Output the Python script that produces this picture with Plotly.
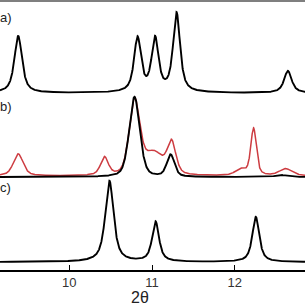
import numpy as np
import plotly.graph_objects as go

# x-axis extent (2θ) and ticks
x_min, x_max = 9.162, 12.85
tick_vals = [10, 11, 12]
tick_text = ["10", "11", "12"]

# Panel baselines (vertical offsets, arbitrary units)
base_a, base_b, base_c = 177, 93, 8

# Peak lists: position (2θ), height, FWHM, lorentz fraction
a_pos = [9.382, 10.825, 11.037, 11.297, 12.643]
a_hgt = [57, 54, 53, 79, 22]
a_fwhm = [0.11, 0.10, 0.10, 0.10, 0.11]
a_eta = [0.75, 0.75, 0.75, 0.75, 0.75]

b_black_pos = [10.788, 11.225, 12.558]
b_black_hgt = [80, 22, 2]
b_black_fwhm = [0.15, 0.11, 0.15]
b_black_eta = [0.35, 0.4, 0.3]

b_red_pos = [9.382, 10.425, 10.788, 11.02, 11.237, 12.07, 12.228, 12.615]
b_red_hgt = [22, 18, 74, 22, 31, 6, 47, 7]
b_red_fwhm = [0.14, 0.11, 0.15, 0.28, 0.12, 0.15, 0.08, 0.18]
b_red_eta = [0.5, 0.5, 0.35, 0.3, 0.5, 0.5, 0.5, 0.5]
b_red_offset = 1

c_pos = [10.485, 11.043, 12.255]
c_hgt = [81, 40, 45]
c_fwhm = [0.12, 0.10, 0.10]
c_eta = [0.75, 0.75, 0.75]

x = np.linspace(x_min, x_max, 2000)


def profile(pos, hgt, fwhm, eta):
    y = np.zeros_like(x)
    for p, h, w, e in zip(pos, hgt, fwhm, eta):
        d = (x - p) / (w / 2)
        lor = 1 / (1 + d ** 2)
        gau = np.exp(-np.log(2) * d ** 2)
        y += h * (e * lor + (1 - e) * gau)
    return y


ya = base_a + profile(a_pos, a_hgt, a_fwhm, a_eta)
yb_red = base_b + b_red_offset + profile(b_red_pos, b_red_hgt, b_red_fwhm, b_red_eta)
yb_black = base_b + profile(b_black_pos, b_black_hgt, b_black_fwhm, b_black_eta)
yc = base_c + profile(c_pos, c_hgt, c_fwhm, c_eta)

fig = go.Figure()
blk = dict(color="black", width=1.9)
fig.add_trace(go.Scatter(x=x, y=ya, mode="lines", line=blk, showlegend=False))
fig.add_trace(go.Scatter(x=x, y=yb_red, mode="lines",
                         line=dict(color="rgb(205,60,65)", width=1.5), showlegend=False))
fig.add_trace(go.Scatter(x=x, y=yb_black, mode="lines", line=blk, showlegend=False))
fig.add_trace(go.Scatter(x=x, y=yc, mode="lines", line=blk, showlegend=False))

lab_font = dict(family="Liberation Sans, Arial, sans-serif", size=13, color="#222")
for txt, ypx in [("a)", 17), ("b)", 106), ("c)", 187)]:
    fig.add_annotation(text=txt, xref="paper", yref="paper", x=0, xanchor="left",
                       xshift=-2, y=(270 - ypx) / 270, yanchor="middle",
                       showarrow=False, font=lab_font)

fig.add_annotation(text="2θ", xref="x", yref="paper", x=10.855, y=-(297 - 270) / 270,
                   yanchor="middle", showarrow=False,
                   font=dict(family="Liberation Sans, Arial, sans-serif", size=16, color="#222"))

fig.add_shape(type="line", xref="paper", yref="paper", x0=0, x1=1,
              y0=1 - 1 / 270, y1=1 - 1 / 270, line=dict(color="#555", width=1.5))

fig.update_xaxes(range=[x_min, x_max], showline=True, linecolor="black", linewidth=1.5,
                 ticks="inside", ticklen=5, tickwidth=1.2, tickcolor="black",
                 tickvals=tick_vals, ticktext=tick_text, showgrid=False, zeroline=False,
                 tickfont=dict(family="Liberation Sans, Arial, sans-serif", size=13, color="#333"))
fig.update_yaxes(range=[0, 270], visible=False, showgrid=False, zeroline=False)
fig.update_layout(width=305, height=305, margin=dict(l=0, r=0, t=0, b=35),
                  plot_bgcolor="white", paper_bgcolor="white")

fig.write_html("out.html")
